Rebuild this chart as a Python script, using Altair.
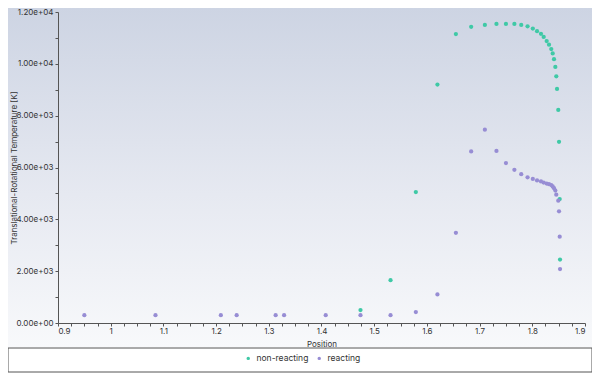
import altair as alt
import pandas as pd

# non-reacting series
nr_x = [1.474, 1.531, 1.579, 1.620, 1.655, 1.684, 1.710, 1.732, 1.750, 1.766,
        1.779, 1.791, 1.801, 1.809, 1.8165, 1.8216, 1.8273, 1.8317, 1.836, 1.8387,
        1.8412, 1.8437, 1.8455, 1.8469, 1.8493, 1.8507, 1.852, 1.8526]
nr_y = [500, 1650, 5050, 9200, 11150, 11430, 11500, 11540, 11540, 11540,
        11500, 11450, 11360, 11260, 11160, 11040, 10880, 10740, 10570, 10400,
        10180, 9880, 9520, 9030, 8220, 6990, 4780, 2450]

# reacting series
r_x = [0.950, 1.085, 1.209, 1.239, 1.313, 1.329, 1.408, 1.474, 1.531,
       1.579, 1.620, 1.655, 1.684, 1.710, 1.732, 1.750, 1.766, 1.779, 1.791,
       1.801, 1.809, 1.8165, 1.8216, 1.8273, 1.8317, 1.836, 1.8387, 1.8412,
       1.8437, 1.8455, 1.8493, 1.8507, 1.852, 1.8526]
r_y = [300, 300, 300, 300, 300, 300, 300, 300, 300,
       420, 1100, 3480, 6620, 7460, 6640, 6170, 5910, 5740, 5620,
       5560, 5500, 5460, 5420, 5380, 5355, 5320, 5270, 5200,
       5110, 4950, 4720, 4310, 3330, 2080]

series_names = ["non-reacting", "reacting"]
series_colors = ["#3fc9a6", "#978dd4"]

x_ticks = [round(0.9 + 0.025 * i, 3) for i in range(41)]
y_ticks = [1000 * i for i in range(13)]

df = pd.concat([
    pd.DataFrame({"Position": nr_x, "T": nr_y, "series": series_names[0]}),
    pd.DataFrame({"Position": r_x, "T": r_y, "series": series_names[1]}),
], ignore_index=True)

W, H = 527, 311
FONT = "Inter"

one = pd.DataFrame({"a": [0]})

bg = alt.Chart(one).mark_rect(
    fill=alt.Gradient(
        gradient="linear",
        stops=[alt.GradientStop(color="#cdd4e3", offset=0),
               alt.GradientStop(color="#e6e9f1", offset=0.55),
               alt.GradientStop(color="#f8f9fb", offset=1)],
        x1=0, x2=0, y1=0, y2=1,
    )
).encode(x=alt.value(-50), x2=alt.value(534), y=alt.value(-4), y2=alt.value(335))

legend_box = alt.Chart(one).mark_rect(
    fill="white", stroke="#555555", strokeWidth=1
).encode(x=alt.value(-50), x2=alt.value(534), y=alt.value(336), y2=alt.value(360))

x_label = ("(round(datum.value*1000) % 100 != 0) ? '' : format(datum.value, '~g')")
y_label = ("(datum.value % 2000 != 0) ? '' : (datum.value == 0 ? '0.00e+00' : "
           "(datum.value >= 10000 ? format(datum.value/10000, '.2f') + 'e+04' : "
           "format(datum.value/1000, '.2f') + 'e+03'))")

points = alt.Chart(df).mark_circle(size=18, opacity=1).encode(
    x=alt.X("Position:Q",
            scale=alt.Scale(domain=[0.9, 1.9], nice=False, zero=False),
            axis=alt.Axis(title="Position", values=x_ticks, labelExpr=x_label,
                          grid=False, tickSize=3, labelPadding=1, titlePadding=5,
                          zindex=1)),
    y=alt.Y("T:Q",
            scale=alt.Scale(domain=[0, 12000], nice=False),
            axis=alt.Axis(title="Translational-Rotational Temperature [K]",
                          values=y_ticks, labelExpr=y_label, grid=False,
                          tickSize=3, labelPadding=2, zindex=1,
                          titleX=-44, titleY=H / 2, titleAngle=270,
                          titleBaseline="middle", titleAlign="center")),
    color=alt.Color("series:N",
                    scale=alt.Scale(domain=series_names, range=series_colors),
                    legend=alt.Legend(title=None, orient="none", direction="horizontal",
                                      legendX=186, legendY=342, symbolSize=12,
                                      symbolType="circle", labelFontSize=8.5,
                                      labelFont=FONT, labelColor="#333333",
                                      columnPadding=6, symbolStrokeWidth=0)),
    order=alt.Order("series:N"),
)

chart = alt.layer(bg, legend_box, points).properties(
    width=W, height=H,
    autosize=alt.AutoSizeParams(type="none"),
    padding={"left": 50, "top": 4, "right": 7, "bottom": 50},
).configure(background="white").configure_view(stroke=None).configure_axis(
    domainColor="#555555", tickColor="#555555", labelColor="#333333",
    titleColor="#333333", labelFont=FONT, titleFont=FONT,
    labelFontSize=8, titleFontSize=8, titleFontWeight="normal",
)

chart.save("out.html", embed_options={"renderer": "svg", "actions": False})
